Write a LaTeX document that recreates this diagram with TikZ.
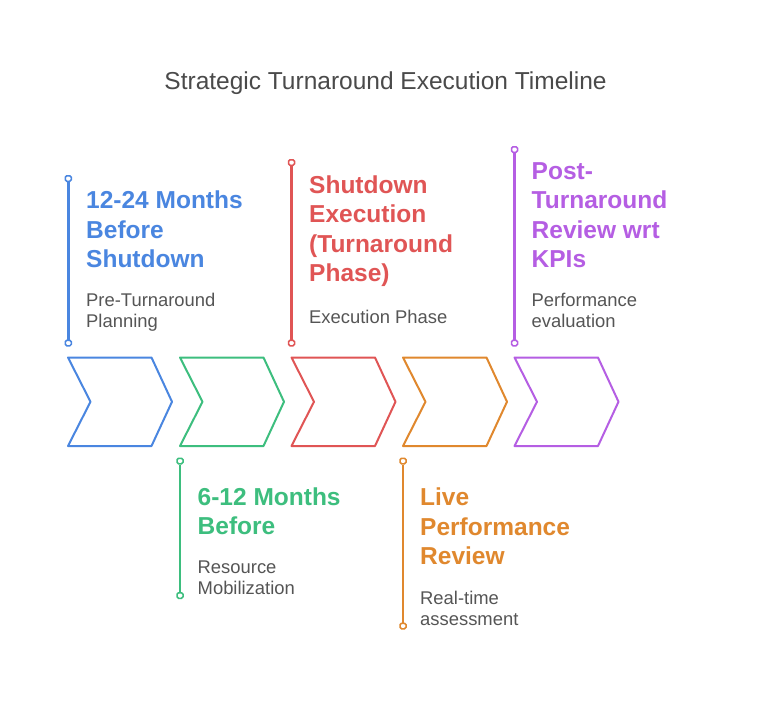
\documentclass[tikz,border=0pt]{standalone}
\usepackage{fontspec}
\setmainfont{Liberation Sans}
\definecolor{cblue}{HTML}{4A86E0}
\definecolor{cgreen}{HTML}{3DBE7E}
\definecolor{cred}{HTML}{E05555}
\definecolor{corange}{HTML}{E0882E}
\definecolor{cpurple}{HTML}{B55EE3}
\definecolor{subgray}{HTML}{555555}
\definecolor{titlegray}{HTML}{4A4A4A}
\tikzset{
  headtxt/.style={anchor=base west, inner sep=0pt, align=left, font=\bfseries\fontsize{24.5}{29.5}\selectfont},
  subtxt/.style={anchor=base west, inner sep=0pt, align=left, text=subgray, font=\fontsize{18.4}{21.5}\selectfont},
  capdot/.style={rounded corners=1.5pt, rectangle, draw=#1, fill=white, line width=1.5pt, minimum width=6pt, minimum height=5.5pt, inner sep=0pt},
  stem/.style={draw=#1, line width=2.5pt},
  chev/.style={draw=#1, line width=2pt, line join=round, fill=white}
}
\newcommand{\chevron}[2]{%
  \draw[chev=#2] (#1,357.5) -- ++(83.5,0) -- (#1+104,401.75) -- (#1+83.5,446) -- (#1,446) -- (#1+22.5,401.75) -- cycle;}
\begin{document}
\begin{tikzpicture}[x=1pt,y=-1pt]
\useasboundingbox[fill=white] (0,0) rectangle (768,716);
\node[anchor=base, inner sep=0pt, text=titlegray, font=\fontsize{24.5}{29}\selectfont] (title) at (385.5,89.8) {Strategic Turnaround Execution Timeline};

% chevrons
\chevron{68}{cblue}
\chevron{180}{cgreen}
\chevron{291.5}{cred}
\chevron{403}{corange}
\chevron{514.5}{cpurple}

% stems (top)
\node[capdot=cblue] (b1) at (68.3,178.5) {};
\node[capdot=cblue] (b2) at (68.3,343) {};
\draw[stem=cblue] (b1) -- (b2);
\node[capdot=cred] (r1) at (291.5,162.5) {};
\node[capdot=cred] (r2) at (291.5,343) {};
\draw[stem=cred] (r1) -- (r2);
\node[capdot=cpurple] (p1) at (514.5,149.5) {};
\node[capdot=cpurple] (p2) at (514.5,343) {};
\draw[stem=cpurple] (p1) -- (p2);
% stems (bottom)
\node[capdot=cgreen] (g1) at (180,461) {};
\node[capdot=cgreen] (g2) at (180,595.5) {};
\draw[stem=cgreen] (g1) -- (g2);
\node[capdot=corange] (o1) at (403,461) {};
\node[capdot=corange] (o2) at (403,626) {};
\draw[stem=corange] (o1) -- (o2);

% texts (anchored at the baseline of the last line)
\node[headtxt, text=cblue] (bh) at (86,267.8) {12-24 Months\\Before\\Shutdown};
\node[subtxt] (bs) at (86,327.5) {Pre-Turnaround\\Planning};

\node[headtxt, text=cred] (rh) at (309,281.8) {Shutdown\\Execution\\(Turnaround\\Phase)};
\node[subtxt] (rs) at (309,323.5) {Execution Phase};

\node[headtxt, text=cpurple] (ph) at (531.5,267.8) {Post-\\Turnaround\\Review wrt\\KPIs};
\node[subtxt] (ps) at (531.5,327.5) {Performance\\evaluation};

\node[headtxt, text=cgreen] (gh) at (197.5,534.8) {6-12 Months\\Before};
\node[subtxt] (gs) at (197.5,594.5) {Resource\\Mobilization};

\node[headtxt, text=corange] (oh) at (420,564.8) {Live\\Performance\\Review};
\node[subtxt] (os) at (420,625.5) {Real-time\\assessment};
\end{tikzpicture}
\end{document}
